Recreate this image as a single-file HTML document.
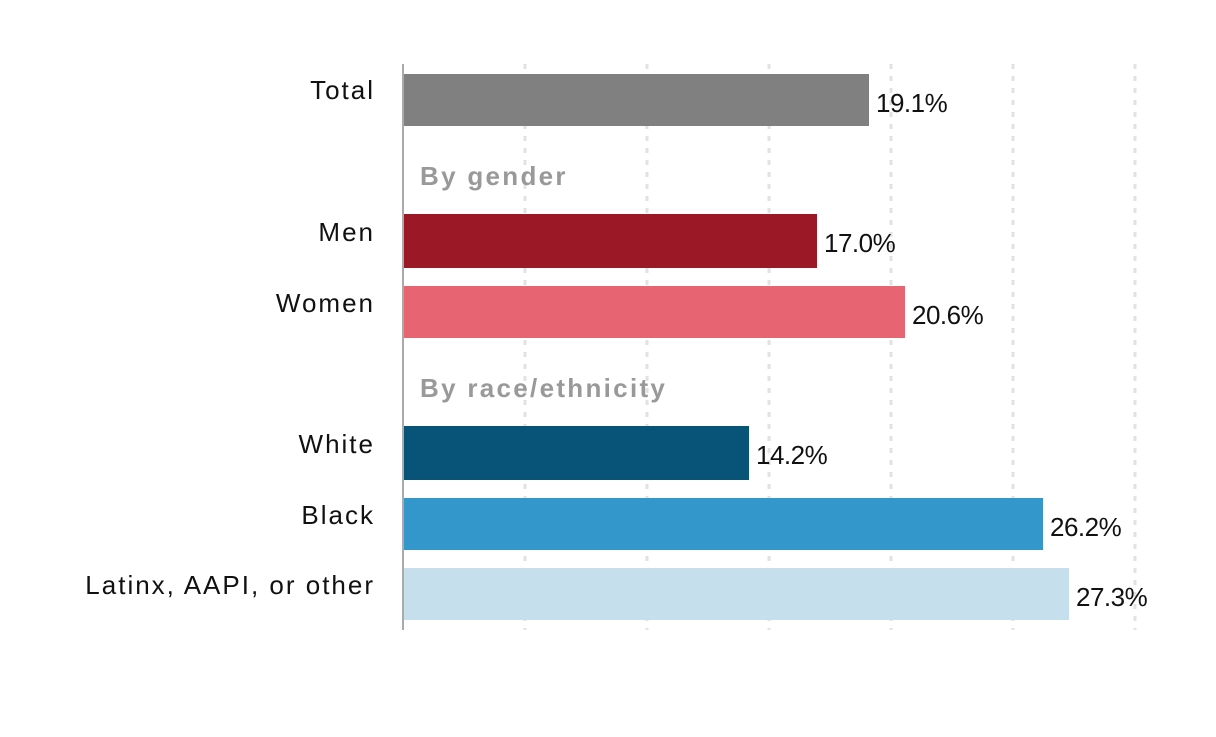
<!DOCTYPE html>
<html><head><style>
body{margin:0;background:#fff;}
svg{display:block;font-family:"Liberation Sans",sans-serif;}
.l{font-size:26px;fill:#111;text-anchor:end;letter-spacing:2px;}
.v{font-size:26px;fill:#111;letter-spacing:-0.5px;}
.h{font-size:26px;fill:#999;font-weight:bold;letter-spacing:2.3px;}
</style></head><body>
<svg width="1216" height="737" viewBox="0 0 1216 737">
<g stroke="#e2e2e2" stroke-width="3" stroke-dasharray="5,7">
<line x1="525" y1="64" x2="525" y2="630"/>
<line x1="647" y1="64" x2="647" y2="630"/>
<line x1="769" y1="64" x2="769" y2="630"/>
<line x1="891" y1="64" x2="891" y2="630"/>
<line x1="1013" y1="64" x2="1013" y2="630"/>
<line x1="1135" y1="64" x2="1135" y2="630"/>
</g>
<rect x="404" y="74" width="465" height="52" fill="#808080"/>
<rect x="404" y="214" width="413" height="54" fill="#9b1826"/>
<rect x="404" y="286" width="501" height="52" fill="#e76472"/>
<rect x="404" y="426" width="345" height="54" fill="#075478"/>
<rect x="404" y="498" width="639" height="52" fill="#3397cb"/>
<rect x="404" y="568" width="665" height="52" fill="#c6dfed"/>
<line x1="403" y1="64" x2="403" y2="630" stroke="#aaa" stroke-width="2"/>
<text class="l" x="375" y="99">Total</text>
<text class="l" x="375" y="241">Men</text>
<text class="l" x="375" y="312">Women</text>
<text class="l" x="375" y="453">White</text>
<text class="l" x="375" y="524">Black</text>
<text class="l" x="375" y="594">Latinx, AAPI, or other</text>
<text class="h" x="420" y="185">By gender</text>
<text class="h" x="420" y="397">By race/ethnicity</text>
<text class="v" x="876" y="112">19.1%</text>
<text class="v" x="824" y="252">17.0%</text>
<text class="v" x="912" y="324">20.6%</text>
<text class="v" x="756" y="464">14.2%</text>
<text class="v" x="1050" y="536">26.2%</text>
<text class="v" x="1076" y="606">27.3%</text>
</svg>
</body></html>
